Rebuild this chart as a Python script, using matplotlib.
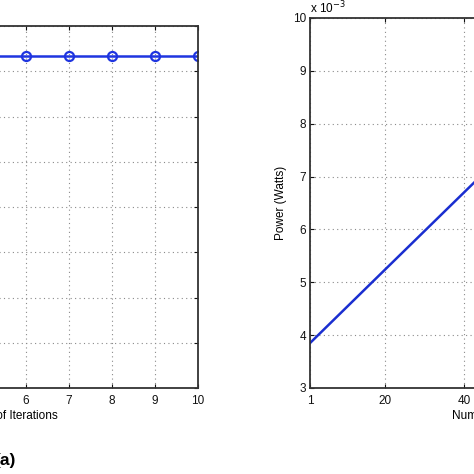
import numpy as np
import matplotlib
matplotlib.use("Agg")
import matplotlib.pyplot as plt

plt.rcParams.update({
    "font.family": ["Liberation Sans", "DejaVu Sans"], "font.size": 8.5,
    "xtick.direction": "in", "ytick.direction": "in",
    "xtick.top": True, "ytick.right": True,
    "xtick.major.size": 3, "ytick.major.size": 3,
    "axes.linewidth": 1.3, "axes.edgecolor": "#333333",
})
BLUE = "#1f35e0"
GRID = dict(color="#8a8a8a", linestyle=(0, (1, 3)), linewidth=0.8)

# (a) value vs. number of iterations
iters = [1, 2, 3, 4, 5, 6, 7, 8, 9, 10]
vals_a = [7.33, 7.33, 7.33, 7.33, 7.33, 7.33, 7.33, 7.33, 7.33, 7.33]

# (b) power vs. number of ... (x10^-3 W)
num_b = [1, 20, 40, 60, 80]
power_b = [3.85, 5.24, 6.70, 8.16, 9.62]

fig = plt.figure(figsize=(4.74, 4.74), dpi=100)
W = 474.0
axa = fig.add_axes([-189 / W, 86 / W, 387 / W, 362 / W])
axb = fig.add_axes([310 / W, 86 / W, 391 / W, 370 / W])

axa.plot(iters, vals_a, "-o", color=BLUE, lw=1.8, ms=6.5, mfc="none", mew=1.6)
axa.set_xlim(1, 10); axa.set_ylim(0, 8)
axa.set_xticks(iters); axa.set_yticks(np.arange(0, 9, 1))
axa.grid(True, **GRID)
axa.set_xlabel("Number of Iterations", labelpad=2)
axa.text(0.5, -0.2, "(a)", transform=axa.transAxes, ha="center", va="center",
         fontsize=12.5, fontweight="bold")

axb.plot(num_b, power_b, "-", color="#1a2ed0", lw=1.8)
axb.set_xlim(1, 100); axb.set_ylim(3, 10)
axb.set_xticks([1, 20, 40, 60, 80, 100]); axb.set_yticks(np.arange(3, 11, 1))
axb.grid(True, **GRID)
axb.set_xlabel("Number of Iterations", labelpad=2)
axb.set_ylabel("Power (Watts)", labelpad=4)
axb.text(0.0, 1.005, r"x 10$^{-3}$", transform=axb.transAxes, ha="left", va="bottom",
         fontsize=8.5)

for ax in (axa, axb):
    ax.tick_params(axis="x", pad=5, colors="#111111")
    ax.tick_params(axis="y", pad=3, colors="#111111")
    ax.set_axisbelow(True)

fig.savefig("out.png", dpi=100)
